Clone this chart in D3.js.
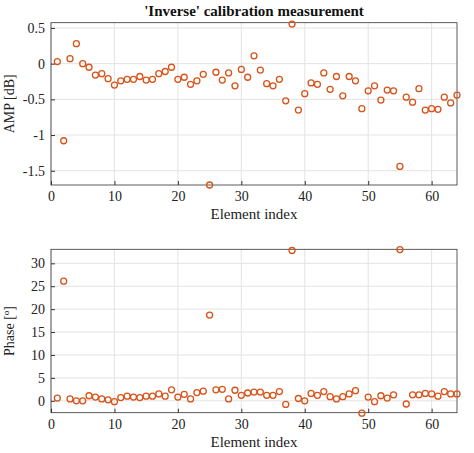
<!DOCTYPE html>
<html><head><meta charset="utf-8">
<script src="https://cdn.jsdelivr.net/npm/d3@7"></script>
<style>body{margin:0;background:#fff}svg text{font-family:"Liberation Serif","Times New Roman","DejaVu Serif",serif !important}</style>
</head><body>
<script>
const idx = d3.range(1, 65);
const amp = [0.03,-1.08,0.07,0.28,0,-0.05,-0.16,-0.14,-0.21,-0.30,-0.24,-0.22,-0.22,-0.18,-0.23,-0.22,-0.14,-0.11,-0.05,-0.22,-0.19,-0.29,-0.24,-0.15,-1.70,-0.12,-0.23,-0.13,-0.31,-0.08,-0.19,0.11,-0.09,-0.28,-0.31,-0.22,-0.52,0.555,-0.65,-0.42,-0.27,-0.29,-0.13,-0.36,-0.18,-0.45,-0.18,-0.24,-0.63,-0.38,-0.31,-0.51,-0.37,-0.38,-1.44,-0.47,-0.54,-0.35,-0.65,-0.63,-0.64,-0.47,-0.55,-0.44];
const phase = [0.6,26.1,0.4,0,0,1.1,0.8,0.4,0.2,-0.2,0.7,1.0,0.8,0.7,1.0,1.0,1.5,1.0,2.4,0.8,1.4,0.4,1.8,2.1,18.7,2.4,2.5,0.4,2.3,1.2,1.7,1.9,1.9,1.2,1.2,2.0,-0.8,32.8,0.5,0,1.6,1.2,2.0,0.9,0.4,0.9,1.5,2.2,-2.7,0.8,-0.2,1.1,0.6,1.3,33.0,-0.7,1.3,1.3,1.6,1.5,1.0,2.0,1.5,1.5];
const xTicks = [0,10,20,30,40,50,60];
const ampTicks = [0.5,0,-0.5,-1,-1.5];
const phaseTicks = [0,5,10,15,20,25,30];
const FONT = '"Liberation Serif","Times New Roman","DejaVu Serif",serif';

const svg = d3.select("body").append("svg").attr("width",474).attr("height",453).attr("font-family",FONT);
const x = d3.scaleLinear().domain([0,64]).range([51,457]);

function panel(top, bottom, domain, ticks, vals, ylabel, title) {
  const y = d3.scaleLinear().domain(domain).range([bottom, top]);
  const g = svg.append("g");
  g.selectAll(".gx").data(xTicks).enter().append("line")
    .attr("x1",d=>x(d)).attr("x2",d=>x(d)).attr("y1",top).attr("y2",bottom).attr("stroke","#e3e3e3");
  g.selectAll(".gy").data(ticks).enter().append("line")
    .attr("y1",d=>y(d)).attr("y2",d=>y(d)).attr("x1",51).attr("x2",457).attr("stroke","#e3e3e3");
  g.append("g").attr("transform",`translate(0,${bottom})`)
    .call(d3.axisBottom(x).tickValues(xTicks).tickSize(-4).tickPadding(6).tickFormat(d3.format("d")));
  g.append("g").attr("transform",`translate(51,0)`)
    .call(d3.axisLeft(y).tickValues(ticks).tickSize(-4).tickPadding(6).tickFormat(d=>String(d)));
  g.selectAll(".domain").remove();
  g.selectAll("g").attr("font-family",FONT);
  g.selectAll(".tick text").attr("font-size",14).attr("fill","#222");
  g.selectAll(".tick line").attr("stroke","#333");
  g.append("rect").attr("x",51).attr("y",top).attr("width",406).attr("height",bottom-top)
    .attr("fill","none").attr("stroke","#333").attr("stroke-width",0.8);
  g.selectAll("circle").data(vals).enter().append("circle")
    .attr("cx",(d,i)=>x(idx[i])).attr("cy",d=>y(d)).attr("r",3)
    .attr("fill","none").attr("stroke","#D95319").attr("stroke-width",1.3);
  g.append("text").attr("x",254).attr("y",bottom+34).attr("text-anchor","middle").attr("font-size",15).attr("fill","#222").text("Element index");
  const yl = g.append("text").attr("transform",`translate(14,${(top+bottom)/2}) rotate(-90)`)
    .attr("text-anchor","middle").attr("font-size",14).attr("fill","#222");
  if (ylabel === "phase") {
    yl.text("Phase [");
    yl.append("tspan").attr("dy",-5).attr("font-size",9).text("o");
    yl.append("tspan").attr("dy",5).text("]");
  } else yl.text(ylabel);
  if (title) g.append("text").attr("x",254).attr("y",top-7).attr("text-anchor","middle")
    .attr("font-size",15).attr("font-weight","bold").attr("fill","#111").text(title);
}
panel(22.7, 185, [-1.7,0.574], ampTicks, amp, "AMP [dB]", "'Inverse' calibration measurement");
panel(249.3, 412.7, [-2.6,33.06], phaseTicks, phase, "phase", null);
</script>
</body></html>
